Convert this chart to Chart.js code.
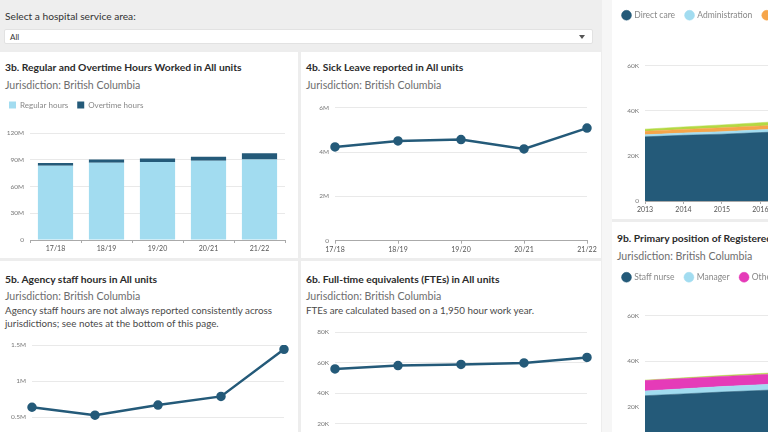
<!DOCTYPE html>
<html>
<head>
<meta charset="utf-8">
<script src="https://cdn.jsdelivr.net/npm/chart.js@4.4.1/dist/chart.umd.min.js"></script>
<style>
  html, body { margin: 0; padding: 0; width: 768px; height: 432px; overflow: hidden; background: #ededed; font-family: Lato, "Liberation Sans", sans-serif; }
  .filter { position: absolute; left: 0; top: 0; width: 602px; height: 50px; background: #eeeeee; }
  .filter-label { position: absolute; left: 5px; top: 10px; font-size: 10.2px; color: #333; }
  .select { position: absolute; left: 4px; top: 29px; width: 589px; height: 15px; background: #fff; border: 1px solid #e2e2e2; box-sizing: border-box; border-radius: 2px; }
  .select span { position: absolute; left: 5px; top: 2px; font-size: 8px; color: #333; }
  .select i { position: absolute; right: 7px; top: 5px; width: 0; height: 0; border-left: 3px solid transparent; border-right: 3px solid transparent; border-top: 4px solid #555; }
  .strip { position: absolute; left: 602px; top: 0; width: 10px; height: 432px; background: #f6f6f6; }
  .card { position: absolute; background: #fff; overflow: hidden; }
  .title { position: absolute; left: 5px; font-size: 10.3px; font-weight: 700; color: #2b2b2b; white-space: nowrap; line-height: 13px; }
  .sub { position: absolute; left: 5px; font-size: 10.6px; color: #6e6e6e; white-space: nowrap; line-height: 14px; }
  .note { position: absolute; left: 5px; font-size: 9.8px; color: #4a4a4a; white-space: nowrap; line-height: 12.5px; }
  canvas { position: absolute; left: 0; }
</style>
</head>
<body>
<div class="filter">
  <div class="filter-label">Select a hospital service area:</div>
  <div class="select"><span>All</span><i></i></div>
</div>
<div class="strip"></div>

<div class="card" style="left:0;top:52px;width:298px;height:206px;">
  <div class="title" style="top:9px;">3b. Regular and Overtime Hours Worked in All units</div>
  <div class="sub" style="top:26px;">Jurisdiction: British Columbia</div>
  <canvas id="hoursChart" width="298" height="165" style="top:40px;"></canvas>
</div>

<div class="card" style="left:301px;top:52px;width:300px;height:206px;">
  <div class="title" style="top:9px;">4b. Sick Leave reported in All units</div>
  <div class="sub" style="top:26px;">Jurisdiction: British Columbia</div>
  <canvas id="sickChart" width="300" height="160" style="top:45px;"></canvas>
</div>

<div class="card" style="left:0;top:261px;width:298px;height:200px;">
  <div class="title" style="top:12px;">5b. Agency staff hours in All units</div>
  <div class="sub" style="top:28px;">Jurisdiction: British Columbia</div>
  <div class="note" style="top:43px;">Agency staff hours are not always reported consistently across<br>jurisdictions; see notes at the bottom of this page.</div>
  <canvas id="agencyChart" width="298" height="136" style="top:74px;"></canvas>
</div>

<div class="card" style="left:301px;top:261px;width:300px;height:200px;">
  <div class="title" style="top:12px;">6b. Full-time equivalents (FTEs) in All units</div>
  <div class="sub" style="top:28px;">Jurisdiction: British Columbia</div>
  <div class="note" style="top:43px;">FTEs are calculated based on a 1,950 hour work year.</div>
  <canvas id="fteChart" width="300" height="149" style="top:61px;"></canvas>
</div>

<div class="card" style="left:612px;top:0;width:200px;height:219px;">
  <canvas id="roleChart" width="395" height="219" style="top:0;"></canvas>
</div>

<div class="card" style="left:612px;top:222px;width:200px;height:240px;">
  <div class="title" style="top:10px;">9b. Primary position of Registered Nurses in All units</div>
  <div class="sub" style="top:27px;">Jurisdiction: British Columbia</div>
  <canvas id="positionChart" width="395" height="208" style="top:40px;"></canvas>
</div>

<script>
  // Datos
  const fiscalYears = ['17/18', '18/19', '19/20', '20/21', '21/22'];
  const regularHours = [83.3e6, 86.7e6, 87.4e6, 88.9e6, 90.3e6];
  const overtimeHours = [3.0e6, 3.6e6, 4.0e6, 4.4e6, 7.1e6];
  const sickLeave = [4.23e6, 4.50e6, 4.56e6, 4.14e6, 5.08e6];
  const agencyHours = [0.64e6, 0.53e6, 0.67e6, 0.79e6, 1.44e6];
  const fteCounts = [55.8e3, 58.0e3, 58.7e3, 59.7e3, 63.3e3];

  const calendarYears = ['2013', '2014', '2015', '2016', '2017', '2018', '2019', '2020', '2021', '2022'];
  const roleLabels = ['Direct care', 'Administration', 'Education', 'Other'];
  const directCare = [28.4e3, 29.1e3, 29.6e3, 30.3e3, 31.0e3, 31.8e3, 32.5e3, 33.1e3, 33.9e3, 34.6e3];
  const administration = [0.9e3, 1.0e3, 1.1e3, 1.2e3, 1.2e3, 1.3e3, 1.3e3, 1.4e3, 1.4e3, 1.5e3];
  const education = [1.6e3, 1.6e3, 1.7e3, 1.7e3, 1.8e3, 1.8e3, 1.9e3, 1.9e3, 2.0e3, 2.0e3];
  const otherRole = [0.9e3, 1.1e3, 1.3e3, 1.5e3, 1.6e3, 1.7e3, 1.8e3, 1.9e3, 2.0e3, 2.1e3];

  const positionLabels = ['Staff nurse', 'Manager', 'Other', 'Not stated'];
  const staffNurse = [25.0e3, 25.8e3, 26.6e3, 27.3e3, 28.0e3, 28.8e3, 29.5e3, 30.1e3, 30.9e3, 31.6e3];
  const managers = [2.1e3, 2.2e3, 2.4e3, 2.5e3, 2.6e3, 2.7e3, 2.8e3, 2.9e3, 3.0e3, 3.1e3];
  const otherPosition = [4.5e3, 4.5e3, 4.4e3, 4.4e3, 4.3e3, 4.3e3, 4.2e3, 4.2e3, 4.1e3, 4.1e3];
  const notStated = [0.2e3, 0.3e3, 0.4e3, 0.5e3, 0.5e3, 0.6e3, 0.6e3, 0.6e3, 0.7e3, 0.7e3];

  // Colores
  const darkBlue = '#245a79';
  const lightBlue = '#a2dcf0';
  const orange = '#f6a54a';
  const green = '#b3d943';
  const magenta = '#e53bb8';

  Chart.defaults.font.family = 'Lato, "Liberation Sans", sans-serif';
  Chart.defaults.color = '#666';
  Chart.defaults.animation = false;

  const tickFont = { size: 6.5 };
  const gridColor = '#e9e9e9';

  function millions(v) { return v === 0 ? '0' : (v / 1e6) + 'M'; }
  function thousands(v) { return v === 0 ? '0' : (v / 1e3) + 'K'; }

  // empuja el area del grafico hacia abajo de la leyenda
  function legendGap(extra) {
    return {
      id: 'legendGap',
      afterInit(chart) {
        const fit = chart.legend.fit;
        chart.legend.fit = function () {
          fit.bind(chart.legend)();
          this.height += extra;
        };
      }
    };
  }

  function xAxis(offset, height) {
    return {
      offset: offset,
      grid: { display: true, drawOnChartArea: false, drawTicks: true, tickLength: 3, color: '#aaa', offset: offset },
      border: { display: true, color: '#aaa' },
      ticks: { font: { size: 7 }, color: '#555', padding: 2, autoSkip: false, maxRotation: 0 },
      afterFit: function (s) { s.height = height; }
    };
  }

  function yAxis(width, max, step, fmt, stacked) {
    return {
      stacked: stacked,
      min: 0,
      max: max,
      grid: { color: gridColor, drawTicks: false },
      border: { display: false },
      ticks: { stepSize: step, font: tickFont, color: '#777', padding: 6, callback: fmt },
      afterFit: function (s) { s.width = width; }
    };
  }

  // 3b barras apiladas
  new Chart(document.getElementById('hoursChart'), {
    type: 'bar',
    data: {
      labels: fiscalYears,
      datasets: [
        { label: 'Regular hours', data: regularHours, backgroundColor: lightBlue, categoryPercentage: 1, barPercentage: 0.69 },
        { label: 'Overtime hours', data: overtimeHours, backgroundColor: darkBlue, categoryPercentage: 1, barPercentage: 0.69 }
      ]
    },
    options: {
      responsive: false,
      layout: { padding: { left: 0, right: 13, top: 0, bottom: 3 } },
      plugins: {
        legend: {
          align: 'start',
          labels: { boxWidth: 7, boxHeight: 7, padding: 9, font: { size: 8 }, color: '#888' }
        },
        tooltip: { enabled: false }
      },
      scales: {
        x: Object.assign(xAxis(true, 14), { stacked: true }),
        y: yAxis(30, 120e6, 30e6, millions, true)
      }
    },
    plugins: [legendGap(14)]
  });

  function lineChart(id, values, max, step, fmt, left, right, top, xHeight, bottom) {
    return new Chart(document.getElementById(id), {
      type: 'line',
      data: {
        labels: fiscalYears,
        datasets: [{
          data: values,
          borderColor: darkBlue,
          backgroundColor: darkBlue,
          borderWidth: 2.5,
          pointRadius: 3.5,
          pointBackgroundColor: darkBlue,
          tension: 0
        }]
      },
      options: {
        responsive: false,
        layout: { padding: { left: 0, right: right, top: top, bottom: bottom } },
        plugins: { legend: { display: false }, tooltip: { enabled: false } },
        scales: {
          x: xAxis(false, xHeight),
          y: yAxis(left, max, step, fmt, false)
        }
      }
    });
  }

  lineChart('sickChart', sickLeave, 6e6, 2e6, millions, 34, 14, 10.7, 14, 2.3);
  lineChart('agencyChart', agencyHours, 1.5e6, 0.5e6, millions, 32, 14, 10, 14, 3.4);
  lineChart('fteChart', fteCounts, 80e3, 20e3, thousands, 34, 14, 10, 14, 3);

  function areaChart(id, labels, series, colors, gap, bottom) {
    return new Chart(document.getElementById(id), {
      type: 'line',
      data: {
        labels: calendarYears,
        datasets: series.map(function (s, i) {
          return {
            label: labels[i],
            data: s,
            fill: i === 0 ? 'origin' : '-1',
            backgroundColor: colors[i],
            borderColor: colors[i],
            borderWidth: 0.5,
            pointRadius: 0,
            pointStyle: 'circle',
            tension: 0
          };
        })
      },
      options: {
        responsive: false,
        layout: { padding: { left: 0, right: 16, top: 0, bottom: bottom } },
        plugins: {
          legend: {
            align: 'start',
            labels: { usePointStyle: true, pointStyle: 'circle', boxWidth: 7, boxHeight: 7, padding: 11, font: { size: 8.5 }, color: '#888' }
          },
          tooltip: { enabled: false }
        },
        scales: {
          x: xAxis(false, 14),
          y: yAxis(33, 60e3, 20e3, thousands, true)
        }
      },
      plugins: [legendGap(gap)]
    });
  }

  // 8b empleados por rol (cortado en la captura)
  areaChart('roleChart', roleLabels, [directCare, administration, education, otherRole],
    [darkBlue, lightBlue, orange, green], 36, 4);

  // 9b posicion principal
  areaChart('positionChart', positionLabels, [staffNurse, managers, otherPosition, notStated],
    [darkBlue, lightBlue, magenta, green], 24, 3);
</script>
</body>
</html>
